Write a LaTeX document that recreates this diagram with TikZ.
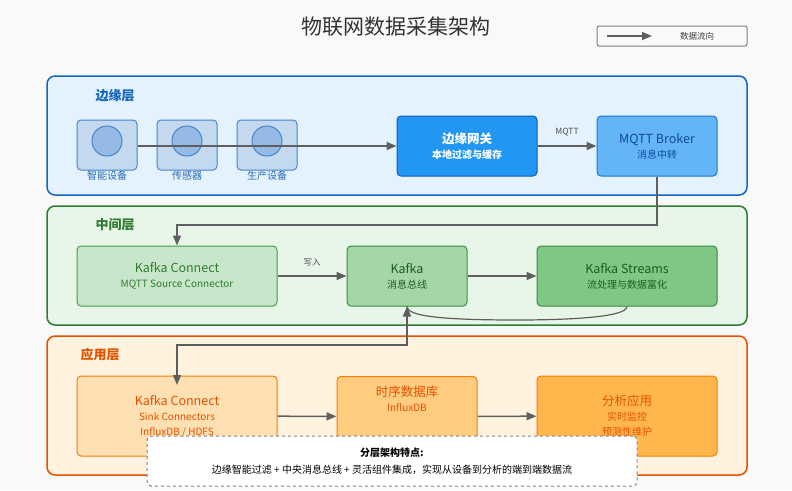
\documentclass[tikz,border=0pt]{standalone}
\usepackage{fontspec}
\setmainfont{Noto Sans CJK SC}
\usetikzlibrary{arrows.meta}
\definecolor{bg}{HTML}{F9F9F9}
\definecolor{eF}{HTML}{E3F2FD}\definecolor{eB}{HTML}{1565C0}
\definecolor{mF}{HTML}{E8F5E9}\definecolor{mB}{HTML}{2E7D32}
\definecolor{aF}{HTML}{FFF3E0}\definecolor{aB}{HTML}{E65100}
\definecolor{ln}{HTML}{5F5F5F}
\begin{document}
\begin{tikzpicture}[x=1pt,y=-1pt,
 layer/.style={draw, line width=1.5pt, rounded corners=8pt},
 box/.style={draw, line width=1pt, rounded corners=4pt, align=center, inner sep=0pt},
 t/.style={font=\fontsize{12.5}{14}\selectfont},
 s/.style={font=\fontsize{10}{12}\selectfont},
 arr/.style={draw=ln, line width=1.5pt, -{Triangle[length=10pt,width=8pt]}},
 con/.style={draw=ln, line width=1.5pt}]
\fill[bg] (0,0) rectangle (792,490);
\useasboundingbox (0,0) rectangle (792,490);
\node[font=\fontsize{21}{24}\selectfont, text=black!80] (title) at (396,27) {物联网数据采集架构};
% legend
\node[draw=gray, line width=1pt, rounded corners=2pt, minimum width=150pt, minimum height=20pt] (leg) at (672,36) {};
\coordinate (l1) at (607,36); \coordinate (l2) at (652,36);
\draw[arr] (l1) -- (l2);
\node[font=\fontsize{8.5}{10}\selectfont, text=black!75] (legt) at (697,36) {数据流向};
% layers
\draw[layer, draw=eB, fill=eF] (47,76) rectangle (747,195);
\draw[layer, draw=mB, fill=mF] (47,206) rectangle (747,325);
\draw[layer, draw=aB, fill=aF] (47,336) rectangle (747,475);
\node[font=\bfseries\fontsize{13}{15}\selectfont, text=eB] (L1) at (115,96) {边缘层};
\node[font=\bfseries\fontsize{13}{15}\selectfont, text=mB] (L2) at (115,225) {中间层};
\node[font=\bfseries\fontsize{13}{15}\selectfont, text=aB] (L3) at (100,355) {应用层};
% devices
\foreach \n/\x/\lab in {d1/107/智能设备, d2/187/传感器, d3/267/生产设备}{
  \node[box, draw=eB!80!white, fill=blue!10!cyan!15!white, fill=eB!25!white, minimum width=60pt, minimum height=50pt] (\n) at (\x,145) {};
  \node[circle, draw=eB!80!white, line width=1pt, fill=blue!30!cyan!35!white, fill=eB!45!white, minimum size=30pt, inner sep=0pt] (\n c) at (\x,141) {};
  \node[s, text=eB!80!gray] (\n l) at (\x,176) {\lab};
}
\node[box, draw=eB!90!black, fill={rgb,255:red,33;green,150;blue,243}, text=white, minimum width=140pt, minimum height=60pt] (gw) at (467,146)
 {{\bfseries\fontsize{12.5}{14}\selectfont 边缘网关}\\[3pt]{\bfseries\fontsize{10}{12}\selectfont 本地过滤与缓存}};
\node[box, draw={rgb,255:red,25;green,118;blue,210}, fill={rgb,255:red,100;green,181;blue,246}, text={rgb,255:red,13;green,71;blue,161}, minimum width=120pt, minimum height=60pt] (mb) at (657,146)
 {{\fontsize{12.5}{14}\selectfont MQTT Broker}\\[3pt]{\fontsize{10}{12}\selectfont 消息中转}};
\draw[arr] (d1.east |- 0,146) -- (gw.west |- 0,146);
\draw[arr] (gw) -- node[above=6pt, font=\fontsize{8.5}{10}\selectfont, text=black!70] (mq) {MQTT} (mb);
% middle
\node[box, draw={rgb,255:red,67;green,160;blue,71}, fill={rgb,255:red,200;green,230;blue,201}, text=mB, minimum width=200pt, minimum height=60pt] (kc) at (177,276)
 {{\fontsize{12.5}{14}\selectfont Kafka Connect}\\[3pt]{\fontsize{10}{12}\selectfont MQTT Source Connector}};
\node[box, draw={rgb,255:red,56;green,142;blue,60}, fill={rgb,255:red,165;green,214;blue,167}, text={rgb,255:red,27;green,94;blue,32}, minimum width=120pt, minimum height=60pt] (kf) at (407,276)
 {{\fontsize{12.5}{14}\selectfont Kafka}\\[3pt]{\fontsize{10}{12}\selectfont 消息总线}};
\node[box, draw={rgb,255:red,56;green,142;blue,60}, fill={rgb,255:red,129;green,199;blue,132}, text={rgb,255:red,27;green,94;blue,32}, minimum width=180pt, minimum height=60pt] (ks) at (627,276)
 {{\fontsize{12.5}{14}\selectfont Kafka Streams}\\[3pt]{\fontsize{10}{12}\selectfont 流处理与数据富化}};
\draw[arr] (mb.south) -- (657,225) -- (177,225) -- (kc.north);
\draw[arr] (kc) -- node[above=6pt, font=\fontsize{8.5}{10}\selectfont, text=black!70] (xr) {写入} (kf);
\draw[arr] (kf) -- (ks);
\draw[con, line width=1.2pt] (ks.south) .. controls (627,318) and (560,320) .. (517,320) .. controls (440,320) and (407,316) .. (kf.south);
% application
\node[box, draw={rgb,255:red,245;green,124;blue,0}, fill={rgb,255:red,255;green,224;blue,178}, text=aB, minimum width=200pt, minimum height=80pt] (sk) at (177,416)
 {{\fontsize{12.5}{14}\selectfont Kafka Connect}\\[3pt]{\fontsize{10}{12}\selectfont Sink Connectors}\\[3pt]{\fontsize{10}{12}\selectfont InfluxDB / HDFS}};
\node[box, draw={rgb,255:red,245;green,124;blue,0}, fill={rgb,255:red,255;green,204;blue,128}, text=aB, minimum width=140pt, minimum height=80pt, anchor=north] (db) at (407,376)
 {\\[-4pt]{\fontsize{12.5}{14}\selectfont 时序数据库}\\[3pt]{\fontsize{10}{12}\selectfont InfluxDB}\\[22pt]};
\node[box, draw={rgb,255:red,245;green,124;blue,0}, fill={rgb,255:red,255;green,183;blue,77}, text=aB, minimum width=180pt, minimum height=80pt] (an) at (627,416)
 {{\fontsize{12.5}{14}\selectfont 分析应用}\\[3pt]{\fontsize{10}{12}\selectfont 实时监控}\\[3pt]{\fontsize{10}{12}\selectfont 预测性维护}};
\draw[draw=ln, line width=1.5pt, {Triangle[length=10pt,width=8pt]}-{Triangle[length=10pt,width=8pt]}] (kf.south) -- (407,345) -- (177,345) -- (177,385);
\draw[arr] (sk) -- (db);
\draw[arr] (db) -- (an);
% note
\node[draw=gray, dashed, line width=1pt, fill=white, rounded corners=4pt, minimum width=490pt, minimum height=50pt, align=center, inner sep=0pt] (note) at (392,461)
 {{\bfseries\fontsize{10}{12}\selectfont 分层架构特点:}\\[5pt]{\fontsize{10}{12}\selectfont 边缘智能过滤 + 中央消息总线 + 灵活组件集成，实现从设备到分析的端到端数据流}};
\end{tikzpicture}
\end{document}
